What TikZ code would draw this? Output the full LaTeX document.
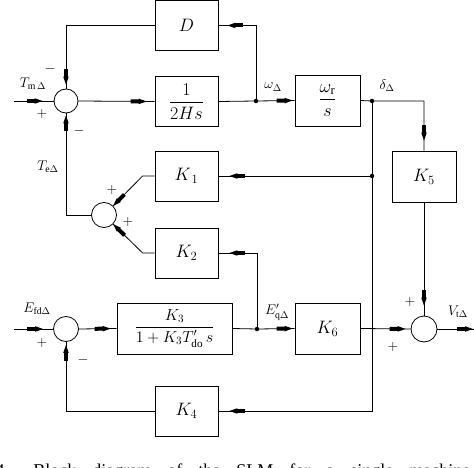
\RequirePackage{fix-cm}
\documentclass[tikz,border=0pt]{standalone}
\usepackage{amsmath}
\usepackage{fontspec}
\setmainfont{Liberation Serif}
\usetikzlibrary{decorations.markings,calc}
\begin{document}
\begin{tikzpicture}[x=1pt,y=-1pt, line width=0.8pt,
 box/.style={draw, minimum width=63pt, minimum height=50pt, inner sep=0pt, font=\fontsize{18}{21}\selectfont},
 sumnode/.style={draw, circle, minimum size=24pt, inner sep=0pt},
 dot/.style={circle, fill, minimum size=4.5pt, inner sep=0pt},
 lbl/.style={font=\fontsize{14}{16}\selectfont, inner sep=0pt},
 sgn/.style={font=\fontsize{14}{16}\selectfont, inner sep=0pt},
 mk/.style={postaction={decorate,decoration={markings,mark=at position #1 with {\fill (-12pt,-2pt) rectangle (-3pt,2pt); \fill (-4pt,-2.8pt) -- (4pt,0pt) -- (-4pt,2.8pt) -- cycle;}}}}
]
\useasboundingbox (0,0) rectangle (474,468);
\clip (0,0) rectangle (474,468);

% blocks
\node[box] (D) at (186.5,25.5) {$D$};
\node[box] (H) at (186.5,101.5) {$\dfrac{1}{2Hs}$};
\node[box, minimum width=65pt, minimum height=51pt] (W) at (327.5,100.5) {$\dfrac{\omega_{\mathrm{r}}}{s}$};
\node[box] (K1) at (186.5,176) {$K_{\,1}$};
\node[box, minimum width=64pt, minimum height=51pt] (K5) at (424,176.5) {$K_5$};
\node[box] (K2) at (186.5,253) {$K_2$};
\node[box, minimum width=115pt, minimum height=51pt, font=\fontsize{16}{19}\selectfont] (K3) at (174.5,328.5) {$\dfrac{K_3}{1+K_3T'_{\mathrm{do}}\,s}$};
\node[box, minimum width=65pt, minimum height=51pt] (K6) at (327.5,328.5) {$K_6$};
\node[box] (K4) at (186.5,411) {$K_4$};

% summing junctions
\node[sumnode] (S1) at (66,101) {};
\node[sumnode, minimum size=25pt] (S2) at (104,215) {};
\node[sumnode, minimum size=25pt] (S3) at (66,329) {};
\node[sumnode, minimum size=26pt] (S4) at (424,329) {};

% branch points
\node[dot] (j1) at (256,101) {};
\node[dot] (j2) at (372,101) {};
\node[dot] (j3) at (372,176) {};
\node[dot] (j4) at (257,329) {};
\coordinate (tin) at (14,101);
\coordinate (ein) at (14,329);
\coordinate (vout) at (474,329);

% connectors
\draw[mk=-15pt] (tin) -- (S1.west);
\draw[mk=-12pt] (S1.east) -- (H.west);
\draw (H.east) -- (j1.center);
\draw[mk=-6pt] (j1.center) -- (W.west);
\draw[mk=-13pt] (j1.center) |- (D.east);
\draw[mk=-8pt] (D.west) -| (S1.north);
\draw[mk=-14pt] (W.east) -- (j2.center) -| (K5.north);
\draw[mk=-15pt] (j2.center) |- (K4.east);
\draw[mk=-15pt] (j3.center) -- (K1.east);
\draw[mk=-15pt] (j4.center) |- (K2.east);
\draw[mk=-4pt] (K1.west) -- ++(-12,0) -- (S2.north east);
\draw[mk=-4pt] (K2.west) -- ++(-12,0) -- (S2.south east);
\draw[mk=-6pt] (S2.west) -| (S1.south);
\draw[mk=-14pt] (ein) -- (S3.west);
\draw[mk=-10pt] (S3.east) -- (K3.west);
\draw (K3.east) -- (j4.center);
\draw[mk=-6pt] (j4.center) -- (K6.west);
\draw[mk=-9pt] (K6.east) -- (S4.west);
\draw[mk=-14pt] (K5.south) -- (S4.north);
\draw[mk=-5pt] (S4.east) -- (vout);
\draw[mk=-7pt] (K4.west) -| (S3.south);

% signal labels
\node[lbl] (lTm) at (33,84) {$T_{\mathrm{m}\,\Delta}$};
\node[lbl] (lw) at (273,87) {$\omega_{\Delta}$};
\node[lbl] (ld) at (387,86) {$\delta_{\Delta}$};
\node[lbl] (lTe) at (48,167) {$T_{\mathrm{e}\Delta}$};
\node[lbl] (lEfd) at (37,309) {$E_{\mathrm{fd}\Delta}$};
\node[lbl] (lEq) at (277,312) {$E'_{\mathrm{q}\Delta}$};
\node[lbl] (lVt) at (458,312) {$V_{\mathrm{t}\Delta}$};

% signs
\node[sgn] (p1) at (42,114) {$+$};
\node[sgn] (m1) at (50,69) {$-$};
\node[sgn] (m2) at (79,131) {$-$};
\node[sgn] (p2) at (112,190) {$+$};
\node[sgn] (p3) at (128,222) {$+$};
\node[sgn] (p4) at (42,343) {$+$};
\node[sgn] (m3) at (83,360) {$-$};
\node[sgn] (p5) at (410,302) {$+$};
\node[sgn] (p6) at (393,347) {$+$};

% caption (cut off at the bottom edge, as in the reference)
\node[anchor=base east, inner sep=0pt, font=\fontsize{18}{21}\selectfont] (capa) at (5,476) {Fig.~4};
\node[anchor=base west, inner sep=0pt, font=\fontsize{18}{21}\selectfont] (capb) at (33,476) {\spaceskip=16pt Block diagram of the SLM for a single machine};
\end{tikzpicture}
\end{document}
